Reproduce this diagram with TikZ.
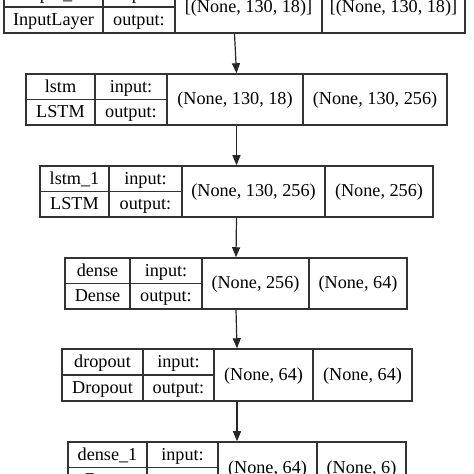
\documentclass[tikz,border=0pt]{standalone}
\usepackage{fontspec}
\setmainfont{Liberation Serif}
\usetikzlibrary{arrows.meta,fit}
\tikzset{
  cell/.style={draw=black!80, line width=1.1pt, inner sep=0pt, text=black,
    font=\fontsize{18.2}{20}\selectfont, text height=13pt, text depth=2pt},
  whole/.style={inner sep=0pt, draw=none},
  flow/.style={draw=black!85, line width=1.2pt, -{Triangle[length=10pt,width=8pt]}}
}
% \cell{name}{x0}{x1}{ytop}{height}{text}  (pixel units, y measured from the top)
\newcommand\cell[6]{\node[cell, minimum width={(#3-#2)*1pt}, minimum height={(#5)*1pt}] (#1) at ({(#2+#3)/2},{474-(#4)-(#5)/2}) {#6};}
\newcommand\layerbox[9]{% id x0 x1 x2 x3 x4 ytop h name
  \cell{#1-n}{#2}{#3}{#7}{#8/2}{#9}%
  \cell{#1-i}{#3}{#4}{#7}{#8/2}{input:}%
  \cell{#1-o}{#3}{#4}{#7+#8/2}{#8/2}{output:}%
}
\newcommand\layerrest[9]{% id x0 x1 x2 x3 x4 ytop h type
  \cell{#1-t}{#2}{#3}{#7+#8/2}{#8/2}{#9}%
}
\newcommand\layershapes[7]{% id x2 x3 x4 ytop h in
  \cell{#1-a}{#2}{#3}{#5}{#6}{#7}%
}
\newcommand\layerout[6]{% id x3 x4 ytop h out
  \cell{#1-b}{#2}{#3}{#4}{#5}{#6}%
  \node[whole, fit=(#1-n)(#1-b)] (#1) {};%
}
\begin{document}
\begin{tikzpicture}[x=1pt,y=1pt]
\useasboundingbox (0,0) rectangle (474,474);
\clip (0,0) rectangle (474,474);
\fill[white] (0,0) rectangle (474,474);

% input layer
\layerbox{L1}{4}{103}{175}{322}{465}{-19}{52}{input\_1}
\layerrest{L1}{4}{103}{175}{322}{465}{-19}{52}{InputLayer}
\layershapes{L1}{175}{322}{465}{-19}{52}{[(None, 130, 18)]}
\layerout{L1}{322}{465}{-19}{52}{[(None, 130, 18)]}

% lstm
\layerbox{L2}{26}{95}{167}{303}{447}{74}{51}{lstm}
\layerrest{L2}{26}{95}{167}{303}{447}{74}{51}{LSTM}
\layershapes{L2}{167}{303}{447}{74}{51}{(None, 130, 18)}
\layerout{L2}{303}{447}{74}{51}{(None, 130, 256)}

% lstm_1
\layerbox{L3}{40}{109}{182}{325}{433}{166}{51}{lstm\_1}
\layerrest{L3}{40}{109}{182}{325}{433}{166}{51}{LSTM}
\layershapes{L3}{182}{325}{433}{166}{51}{(None, 130, 256)}
\layerout{L3}{325}{433}{166}{51}{(None, 256)}

% dense
\layerbox{L4}{65}{130}{202}{309}{407}{258}{51}{dense}
\layerrest{L4}{65}{130}{202}{309}{407}{258}{51}{Dense}
\layershapes{L4}{202}{309}{407}{258}{51}{(None, 256)}
\layerout{L4}{309}{407}{258}{51}{(None, 64)}

% dropout
\layerbox{L5}{62}{143}{214}{313}{412}{349}{52}{dropout}
\layerrest{L5}{62}{143}{214}{313}{412}{349}{52}{Dropout}
\layershapes{L5}{214}{313}{412}{349}{52}{(None, 64)}
\layerout{L5}{313}{412}{349}{52}{(None, 64)}

% dense_1
\layerbox{L6}{68}{147}{218}{317}{406}{442}{51}{dense\_1}
\layerrest{L6}{68}{147}{218}{317}{406}{442}{51}{Dense}
\layershapes{L6}{218}{317}{406}{442}{51}{(None, 64)}
\layerout{L6}{317}{406}{442}{51}{(None, 6)}

\draw[flow] (L1.south) -- (L2.north);
\draw[flow] (L2.south) -- (L3.north);
\draw[flow] (L3.south) -- (L4.north);
\draw[flow] (L4.south) -- (L5.north);
\draw[flow] (L5.south) -- (L6.north);
\end{tikzpicture}
\end{document}
